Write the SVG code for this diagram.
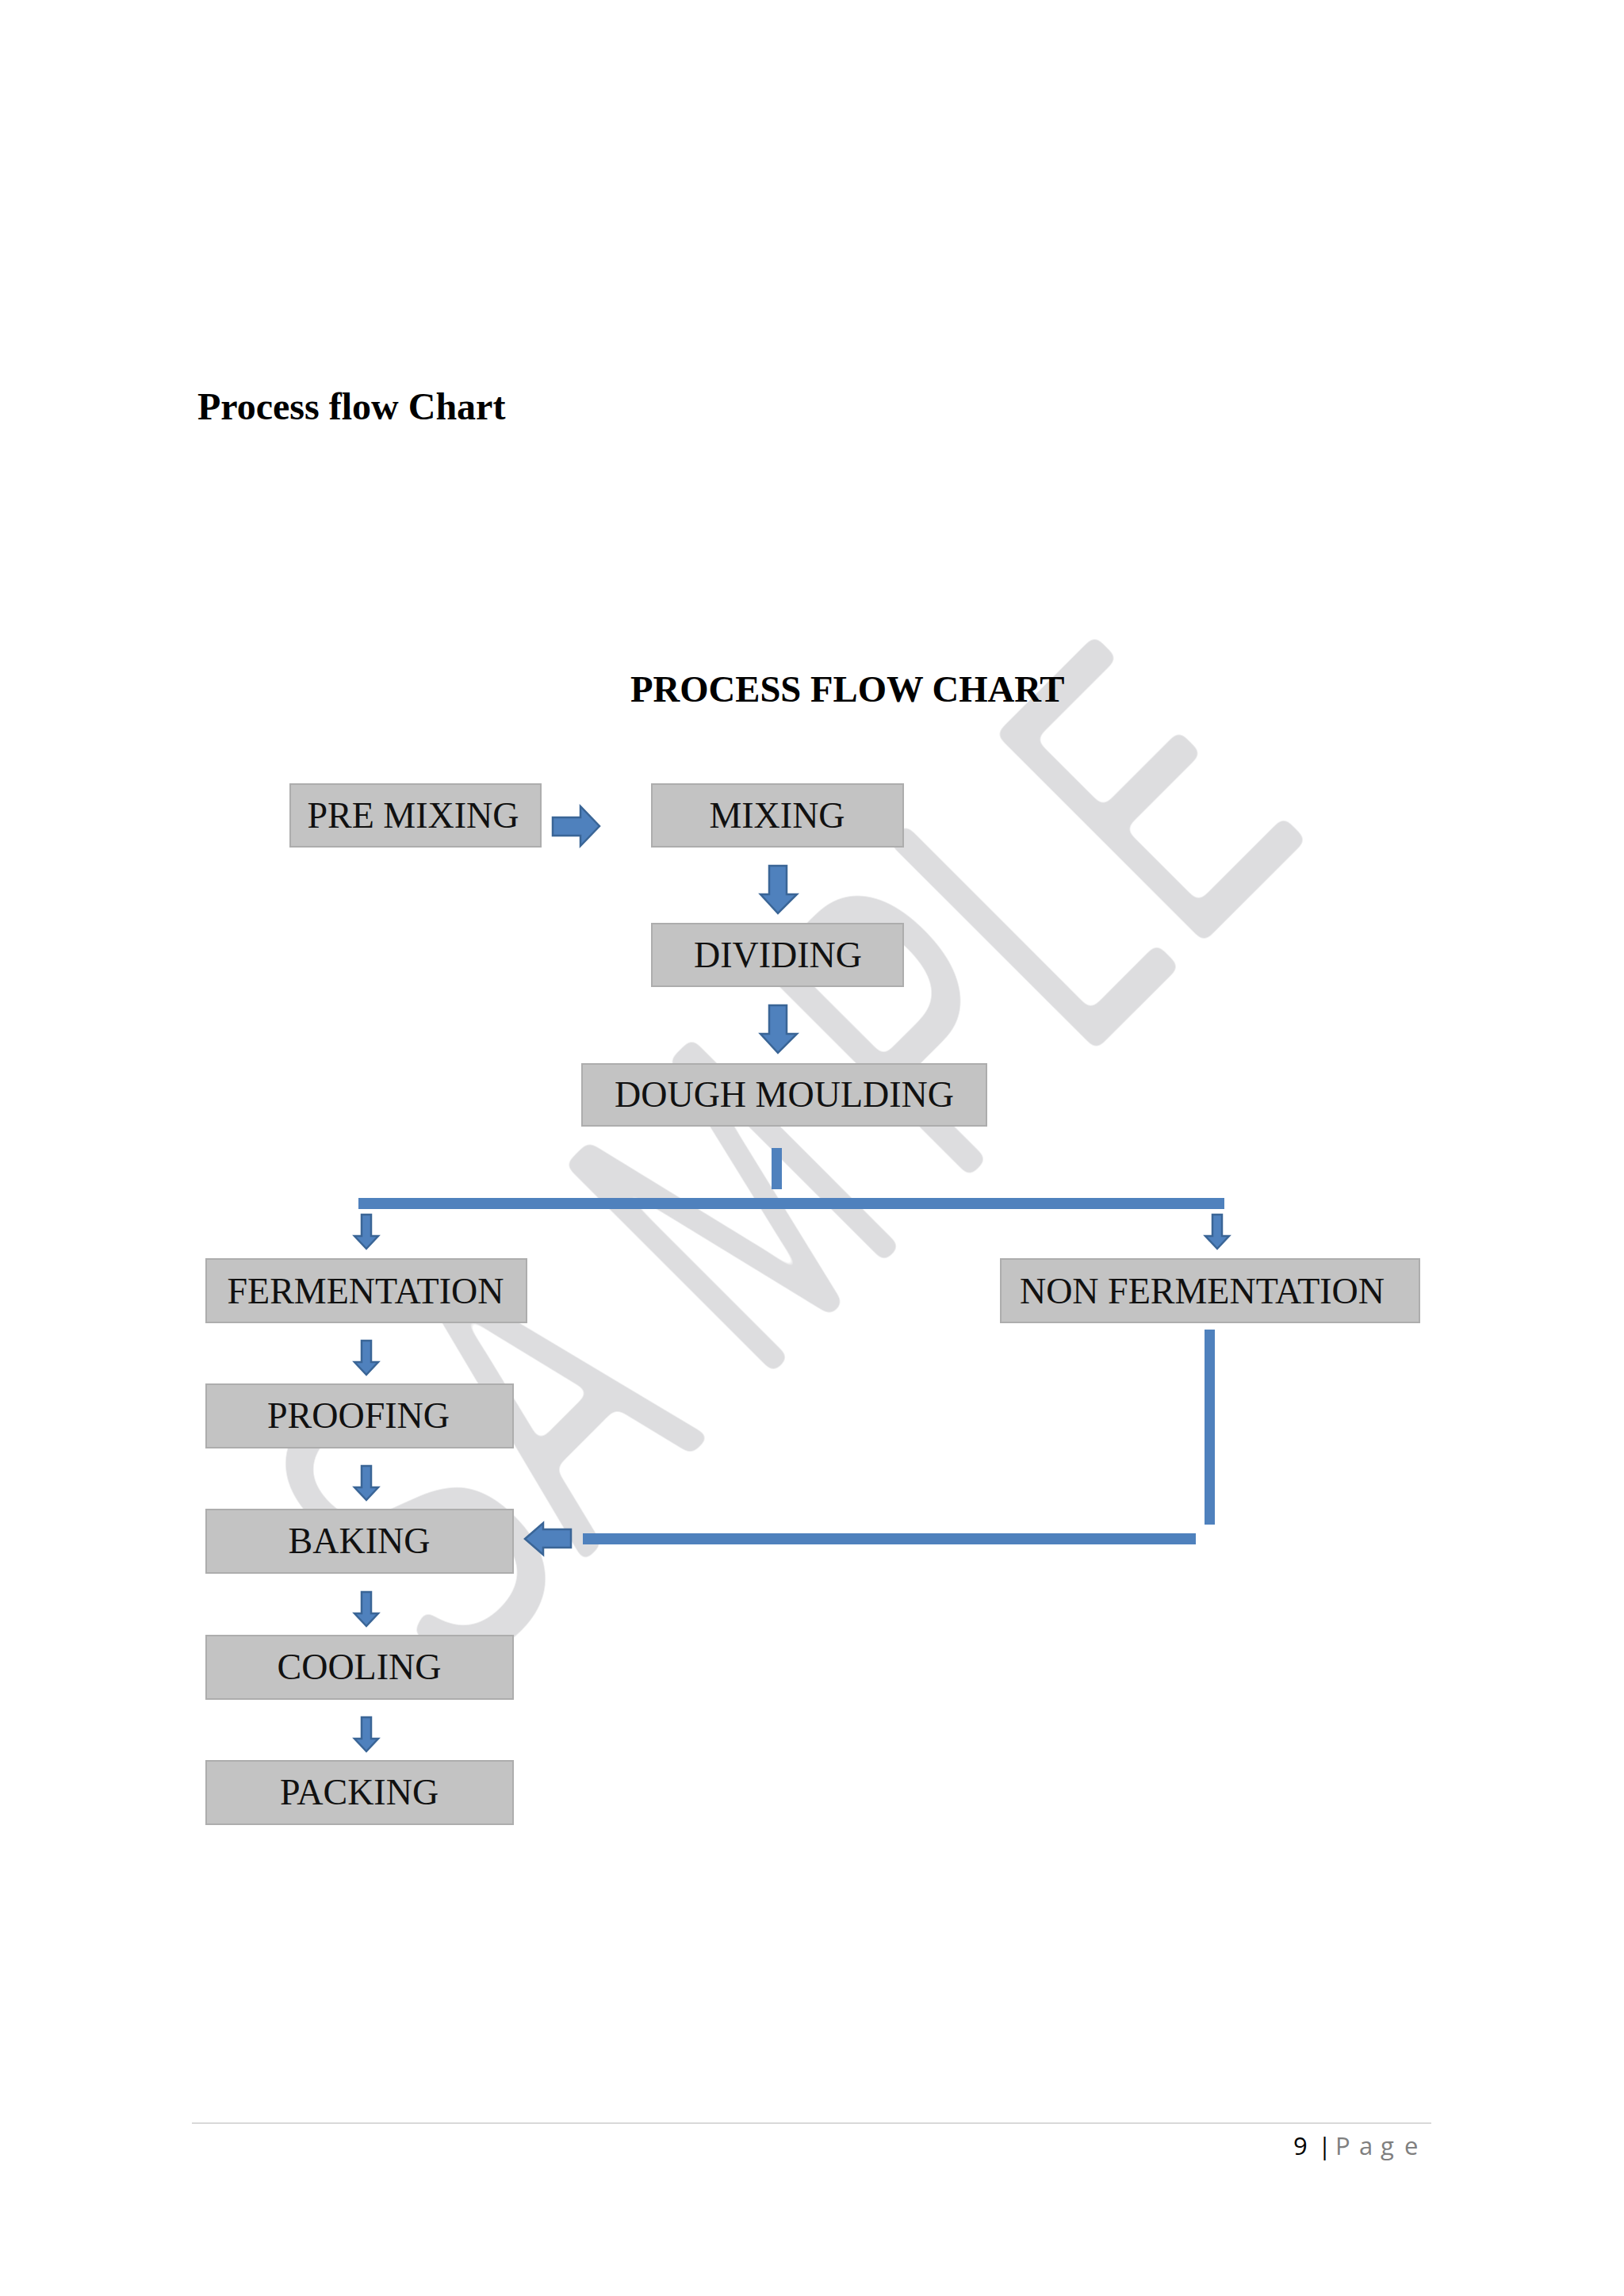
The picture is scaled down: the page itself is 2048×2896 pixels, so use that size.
<svg xmlns="http://www.w3.org/2000/svg" width="2048" height="2896" viewBox="0 0 2048 2896">
  <style>
    .box { fill: #C3C3C3; stroke: #ADADAD; stroke-width: 2; }
    .lbl { font-family: "Liberation Serif", "Times New Roman", serif; font-size: 46px; fill: #111111; text-anchor: middle; }
    .ttl { font-family: "Liberation Serif", "Times New Roman", serif; font-weight: bold; fill: #000000; }
    .arr { fill: #4F81BD; stroke: #3A6596; stroke-width: 2.5; stroke-linejoin: miter; }
    .ln { stroke: #4F81BD; fill: none; stroke-linecap: butt; }
    .wm { font-family: "Liberation Sans", Arial, sans-serif; font-size: 540px; fill: #000000; }
    .ftr { font-family: "Open Sans", "Liberation Sans", sans-serif; font-size: 31px; }
  </style>
  <defs>
    <filter id="soft" filterUnits="userSpaceOnUse" x="0" y="0" width="2048" height="2896">
      <feGaussianBlur in="SourceAlpha" stdDeviation="7" result="b"/>
      <feComponentTransfer in="b" result="t">
        <feFuncA type="linear" slope="10" intercept="-4.6"/>
      </feComponentTransfer>
      <feFlood flood-color="#DDDDDF" result="c"/>
      <feComposite in="c" in2="t" operator="in"/>
    </filter>
  </defs>
  <rect x="0" y="0" width="2048" height="2896" fill="#FFFFFF"/>

  <g id="watermark" filter="url(#soft)">
    <text class="wm" transform="translate(1353.5,1353.5) rotate(-45) scale(0.626,1)" x="-1762 -1395 -899 -340 21 328" y="0">SAMPLE</text>
  </g>

  <g id="page-title">
    <text class="ttl" x="249" y="529" font-size="48">Process flow Chart</text>
  </g>
  <g id="chart-title">
    <text class="ttl" x="795" y="885" font-size="46.7">PROCESS FLOW CHART</text>
  </g>

  <g id="connectors">
    <!-- PRE MIXING -> MIXING -->
    <polygon class="arr" points="697,1031 732,1031 732,1017 756,1042 732,1067 732,1054 697,1054"/>
    <!-- MIXING -> DIVIDING -->
    <polygon class="arr" points="970,1092 992,1092 992,1128 1005,1128 981,1152 959,1128 970,1128"/>
    <!-- DIVIDING -> DOUGH MOULDING -->
    <polygon class="arr" points="970,1268 992,1268 992,1304 1005,1304 981,1328 959,1304 970,1304"/>
    <!-- DOUGH MOULDING split -->
    <line class="ln" x1="979.5" y1="1448" x2="979.5" y2="1500" stroke-width="13"/>
    <line class="ln" x1="452" y1="1518" x2="1544" y2="1518" stroke-width="14"/>
    <!-- to FERMENTATION -->
    <polygon class="arr" points="456,1532 468,1532 468,1559 477,1559 462,1575 447,1559 456,1559"/>
    <!-- to NON FERMENTATION -->
    <polygon class="arr" points="1529,1532 1541,1532 1541,1559 1550,1559 1535,1575 1520,1559 1529,1559"/>
    <!-- FERMENTATION -> PROOFING -->
    <polygon class="arr" points="456,1691 468,1691 468,1718 477,1718 462,1734 447,1718 456,1718"/>
    <!-- PROOFING -> BAKING -->
    <polygon class="arr" points="456,1849 468,1849 468,1876 477,1876 462,1892 447,1876 456,1876"/>
    <!-- BAKING -> COOLING -->
    <polygon class="arr" points="456,2008 468,2008 468,2035 477,2035 462,2051 447,2035 456,2035"/>
    <!-- COOLING -> PACKING -->
    <polygon class="arr" points="456,2166 468,2166 468,2193 477,2193 462,2209 447,2193 456,2193"/>
    <!-- NON FERMENTATION -> BAKING -->
    <line class="ln" x1="1525.5" y1="1677" x2="1525.5" y2="1923" stroke-width="13"/>
    <line class="ln" x1="735" y1="1941" x2="1508" y2="1941" stroke-width="14"/>
    <polygon class="arr" points="662,1941 685,1921 685,1929 720,1929 720,1952 685,1952 685,1961"/>
  </g>

  <g id="node-pre-mixing">
    <rect class="box" x="366" y="989" width="316" height="79"/>
    <text class="lbl" x="521" y="1044">PRE MIXING</text>
  </g>
  <g id="node-mixing">
    <rect class="box" x="822" y="989" width="317" height="79"/>
    <text class="lbl" x="980" y="1044">MIXING</text>
  </g>
  <g id="node-dividing">
    <rect class="box" x="822" y="1165" width="317" height="79"/>
    <text class="lbl" x="981" y="1220">DIVIDING</text>
  </g>
  <g id="node-dough-moulding">
    <rect class="box" x="734" y="1342" width="510" height="78"/>
    <text class="lbl" x="989" y="1396">DOUGH MOULDING</text>
  </g>
  <g id="node-fermentation">
    <rect class="box" x="260" y="1588" width="404" height="80"/>
    <text class="lbl" x="461" y="1644">FERMENTATION</text>
  </g>
  <g id="node-non-fermentation">
    <rect class="box" x="1262" y="1588" width="528" height="80"/>
    <text class="lbl" x="1516" y="1644">NON FERMENTATION</text>
  </g>
  <g id="node-proofing">
    <rect class="box" x="260" y="1746" width="387" height="80"/>
    <text class="lbl" x="452" y="1801">PROOFING</text>
  </g>
  <g id="node-baking">
    <rect class="box" x="260" y="1904" width="387" height="80"/>
    <text class="lbl" x="453" y="1959">BAKING</text>
  </g>
  <g id="node-cooling">
    <rect class="box" x="260" y="2063" width="387" height="80"/>
    <text class="lbl" x="453" y="2118">COOLING</text>
  </g>
  <g id="node-packing">
    <rect class="box" x="260" y="2221" width="387" height="80"/>
    <text class="lbl" x="453" y="2276">PACKING</text>
  </g>

  <g id="footer">
    <line x1="242" y1="2678" x2="1805" y2="2678" stroke="#D9D9D9" stroke-width="2"/>
    <text class="ftr" y="2718"><tspan x="1631" fill="#000000">9</tspan><tspan x="1662" fill="#000000">|</tspan><tspan x="1684 1714 1741 1771" fill="#7F7F7F">Page</tspan></text>
  </g>
</svg>
